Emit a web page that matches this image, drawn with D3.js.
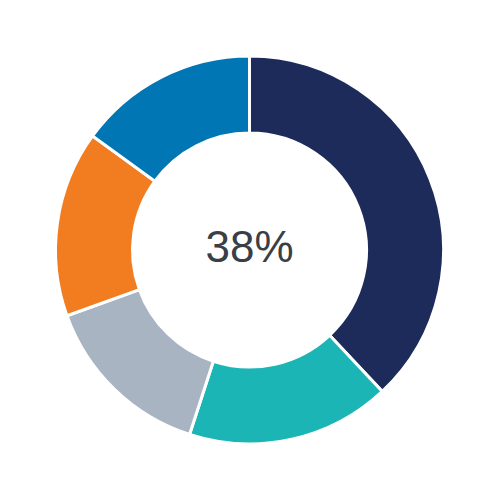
<!DOCTYPE html>
<html><head><meta charset="utf-8">
<script src="https://cdn.jsdelivr.net/npm/d3@7"></script>
<style>html,body{margin:0;padding:0;background:#fff;}</style>
</head><body>
<svg id="chart" width="500" height="500"></svg>
<script>
const categories = ["A", "B", "C", "D", "E"];
const values = [38, 17, 14.5, 15.5, 15];
const colors = ["#1c2b5a", "#1bb5b6", "#a9b4c3", "#f27d20", "#0076b5"];
const centerLabel = "38%";

const svg = d3.select("#chart");
const g = svg.append("g").attr("transform", "translate(249.5,250)");
const pie = d3.pie().sort(null).value(d => d.v);
const arc = d3.arc().innerRadius(117).outerRadius(194);
const data = categories.map((c, i) => ({c, v: values[i], col: colors[i]}));
g.selectAll("path").data(pie(data)).join("path")
  .attr("d", arc)
  .attr("fill", d => d.data.col)
  .attr("stroke", "#fff")
  .attr("stroke-width", 3);
g.append("text").attr("x", 0).attr("y", 12)
  .attr("text-anchor", "middle")
  .attr("font-family", "Liberation Sans, Arial, sans-serif")
  .attr("font-size", 44)
  .attr("fill", "#3a3f45")
  .text(centerLabel);
</script>
</body></html>
